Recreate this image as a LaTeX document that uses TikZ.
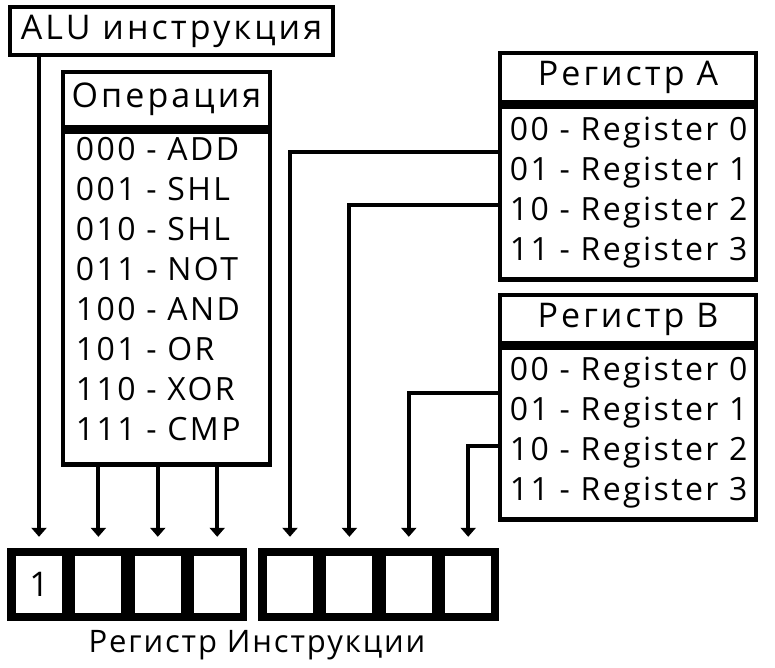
\documentclass[tikz,border=0pt]{standalone}
\usepackage{fontspec}
\setmainfont{Open Sans}[LetterSpace=7.5]
\newfontfamily\headfont{Open Sans}[LetterSpace=9.0]
\newfontfamily\titlefont{Open Sans}[LetterSpace=6.0]
\usetikzlibrary{positioning, arrows.meta}

\begin{document}
\begin{tikzpicture}[
    x=1pt, y=1pt,
    txt/.style={font=\fontsize{32}{38}\selectfont, inner sep=0pt},
    box/.style={draw, line width=4.5pt, inner sep=0pt, font=\headfont\fontsize{34}{40}\selectfont},
    row/.style={txt, anchor=base west},
    frame/.style={fill=black, inner sep=0pt, minimum height=73pt},
    cell/.style={fill=white, inner sep=0pt, minimum width=46pt, minimum height=57pt,
                 font=\fontsize{34}{40}\selectfont},
    wire/.style={line width=4pt, -{Triangle[width=15pt,length=9pt]}, shorten >=19pt}
]
\useasboundingbox (0,0) rectangle (775,668);

   % Boxes
   \node[box, minimum width=323pt, minimum height=48pt] (alu) at (171.5,637) {ALU инструкция};

   \node[box, minimum width=207pt, minimum height=55pt] (opHead) at (166.5,568.5) {Операция};
   \node[box, minimum width=207pt, minimum height=333pt, below=0pt of opHead] (opBody) {};

   \node[box, minimum width=256pt, minimum height=49pt] (raHead) at (628,590.5) {Регистр A};
   \node[box, minimum width=256pt, minimum height=173pt, below=0pt of raHead] (raBody) {};

   \node[box, minimum width=256pt, minimum height=48pt] (rbHead) at (628,349) {Регистр B};
   \node[box, minimum width=256pt, minimum height=172pt, below=0pt of rbHead] (rbBody) {};

   % Lists
   \foreach \lbl [count=\i] in {000 - ADD, 001 - SHL, 010 - SHL, 011 - NOT,
                                100 - AND, 101 - OR, 110 - XOR, 111 - CMP}
      \node[row] (op\i) at ([xshift=15pt, yshift={-31pt-40pt*(\i-1)}]opBody.north west) {\lbl};
   \foreach \lbl [count=\i] in {00 - Register 0, 01 - Register 1, 10 - Register 2, 11 - Register 3}
      \node[row] (ra\i) at ([xshift=12pt, yshift={-36pt-40pt*(\i-1)}]raBody.north west) {\lbl};
   \foreach \lbl [count=\i] in {00 - Register 0, 01 - Register 1, 10 - Register 2, 11 - Register 3}
      \node[row] (rb\i) at ([xshift=12pt, yshift={-35pt-40pt*(\i-1)}]rbBody.north west) {\lbl};

   % Instruction register
   \node[frame, minimum width=240pt] (regL) at (127,83.5) {};
   \node[frame, minimum width=241pt] (regR) at (378.5,83.5) {};
   \node[cell, right=9pt of regL.west] (c1) {1};
   \node[cell, right=9pt of regR.west] (c5) {};
   \foreach \i/\j in {2/1, 3/2, 4/3, 6/5, 7/6, 8/7}
      \node[cell, right=13pt of c\j] (c\i) {};
   \node[inner sep=0pt, font=\titlefont\fontsize{31}{37}\selectfont] (title) at (257,23) {Регистр Инструкции};

   % Wires
   \coordinate (ra0) at ([yshift=-48pt]raBody.north west);
   \coordinate (raX) at ([yshift=-101pt]raBody.north west);
   \coordinate (rb0) at ([yshift=-48pt]rbBody.north west);
   \coordinate (rbX) at ([yshift=-101pt]rbBody.north west);

   \draw[wire] (alu.south -| c1.north) -- (c1.north);
   \foreach \c in {c2, c3, c4}
      \draw[wire] (opBody.south -| \c.north) -- (\c.north);
   \draw[wire] (ra0) -| (c5.north);
   \draw[wire] (raX) -| (c6.north);
   \draw[wire] (rb0) -| (c7.north);
   \draw[wire] (rbX) -| (c8.north);
\end{tikzpicture}
\end{document}
